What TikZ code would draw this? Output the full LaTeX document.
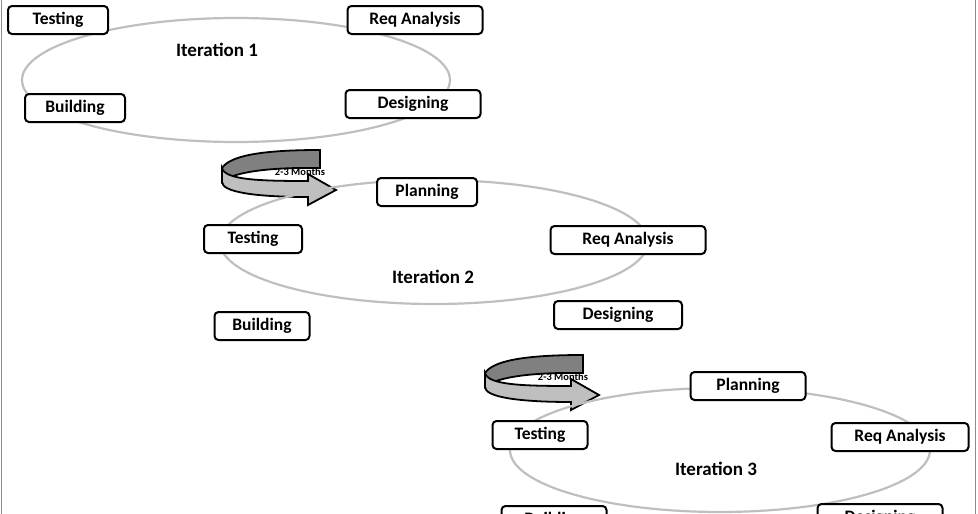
\documentclass[tikz,border=0pt]{standalone}
\usepackage{fontspec}
\setmainfont{Carlito}
\usetikzlibrary{positioning}
\tikzset{
  phase/.style={
    rectangle,
    rounded corners=4pt,
    draw=black, line width=2pt,
    fill=white,
    minimum height=28pt,
    inner xsep=8pt,
    font=\fontsize{17.5}{19}\selectfont\bfseries},
  cycle/.style={draw=black!25, line width=2.2pt},
  itlabel/.style={font=\fontsize{19}{21}\selectfont\bfseries},
  months/.style={font=\fontsize{10.5}{11}\selectfont\bfseries, inner sep=0pt},
  bandback/.style={draw=black, line width=1.8pt, fill=black!50},
  bandfront/.style={draw=black, line width=1.8pt, fill=black!25},
}
\newcommand{\turnarrow}[2]{%
  \begin{scope}[shift={(#1)}]
    \draw[bandback] (100,0) -- (100,18) .. controls (40,17) and (10,24) .. (2,32)
      -- (2,18) .. controls (10,6) and (40,0) .. (100,0) -- cycle;
    \draw[bandfront] (2,18) .. controls (5,30) and (40,31) .. (88,31) -- (88,24)
      -- (116,40) -- (88,55) -- (88,47) .. controls (35,47) and (2,42) .. (2,32) -- cycle;
    \node[months] at (80,22) {#2};
  \end{scope}}

\begin{document}
\begin{tikzpicture}[x=1pt,y=-1pt]
  \useasboundingbox (0,0) rectangle (978,514);
  \clip (0,0) rectangle (978,514);
  \draw[black!45, line width=1pt] (1,0) -- (1,514);
  \draw[black!45, line width=1pt] (975,0) -- (975,514);

  %% Iteration 1
  \draw[cycle] (236,80) ellipse [x radius=214, y radius=62];
  \node[itlabel] (it1) at (217,50) {Iteration 1};
  \node[phase, minimum width=100pt] (test1) at (58,20) {Testing};
  \node[phase, minimum width=135pt] (req1) at (415,20) {Req Analysis};
  \node[phase, minimum width=100pt] (build1) at (75,108) {Building};
  \node[phase, minimum width=135pt] (des1) at (413,104) {Designing};

  \turnarrow{220,150}{2-3 Months}

  %% Iteration 2
  \draw[cycle] (434,242) ellipse [x radius=214, y radius=62];
  \node[itlabel] (it2) at (433,277) {Iteration 2};
  \node[phase, minimum width=100pt] (plan2) at (427,192) {Planning};
  \node[phase, minimum width=98pt] (test2) at (253,239) {Testing};
  \node[phase, minimum width=155pt] (req2) at (628,240) {Req Analysis};
  \node[phase, minimum width=95pt] (build2) at (262,326) {Building};
  \node[phase, minimum width=128pt] (des2) at (618,315) {Designing};

  \turnarrow{483,355}{2-3 Months}

  %% Iteration 3
  \draw[cycle] (720,450) ellipse [x radius=210, y radius=62];
  \node[itlabel] (it3) at (716,469) {Iteration 3};
  \node[phase, minimum width=115pt] (plan3) at (748,386) {Planning};
  \node[phase, minimum width=95pt] (test3) at (540,435) {Testing};
  \node[phase, minimum width=137pt] (req3) at (900,437) {Req Analysis};
  \node[phase, minimum width=105pt] (build3) at (554,520) {Building};
  \node[phase, minimum width=125pt] (des3) at (880,518) {Designing};
\end{tikzpicture}
\end{document}
